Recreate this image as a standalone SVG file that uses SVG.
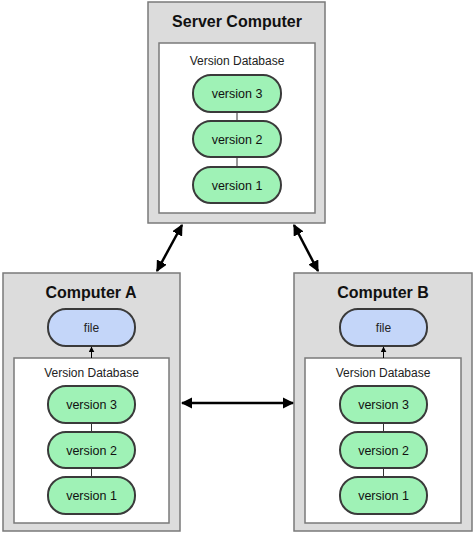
<svg xmlns="http://www.w3.org/2000/svg" width="474" height="533" viewBox="0 0 474 533">
<defs>
<marker id="ah" viewBox="0 0 10 10" refX="9" refY="5" markerWidth="4.5" markerHeight="4.5" orient="auto-start-reverse">
<path d="M0,0 L10,5 L0,10 z" fill="#000"/>
</marker>
<marker id="as" viewBox="0 0 10 10" refX="9" refY="5" markerWidth="6" markerHeight="6" orient="auto">
<path d="M0,0 L10,5 L0,10 z" fill="#000"/>
</marker>
</defs>
<style>
.comp{fill:#dcdcdc;stroke:#7a7a7a;stroke-width:1.5}
.db{fill:#fff;stroke:#7a7a7a;stroke-width:1.5}
.ver{fill:#9ff2b6;stroke:#3a3a3a;stroke-width:2}
.file{fill:#c4d6f9;stroke:#3a3a3a;stroke-width:2}
.title{font-family:"Liberation Sans",Arial,sans-serif;font-weight:bold;font-size:16px;fill:#111;text-anchor:middle}
.lbl{font-family:"Liberation Sans",Arial,sans-serif;font-size:12px;fill:#222;text-anchor:middle}
.vl{font-family:"Liberation Sans",Arial,sans-serif;font-size:12.5px;fill:#111;text-anchor:middle}
.thin{stroke:#333;stroke-width:1;fill:none}
.big{stroke:#000;stroke-width:2.5;fill:none}
</style>
<rect width="474" height="533" fill="#fff"/>

<g id="server">
<rect class="comp" x="148" y="2" width="177" height="221"/>
<text class="title" x="237" y="27">Server Computer</text>
<rect class="db" x="159" y="43" width="156" height="170"/>
<text class="lbl" x="237" y="65">Version Database</text>
<line class="thin" x1="237" y1="112" x2="237" y2="121"/>
<line class="thin" x1="237" y1="157" x2="237" y2="167"/>
<rect class="ver" x="193" y="75" width="88" height="37" rx="18"/>
<text class="vl" x="237" y="98">version 3</text>
<rect class="ver" x="193" y="121" width="88" height="36" rx="18"/>
<text class="vl" x="237" y="143.5">version 2</text>
<rect class="ver" x="193" y="167" width="88" height="36" rx="18"/>
<text class="vl" x="237" y="189.5">version 1</text>
</g>

<g id="computerA">
<rect class="comp" x="3" y="273" width="177" height="258"/>
<text class="title" x="91" y="298">Computer A</text>
<rect class="file" x="48" y="309" width="87" height="37" rx="18"/>
<text class="lbl" x="91.5" y="332">file</text>
<rect class="db" x="14" y="358" width="155" height="165"/>
<text class="lbl" x="91.5" y="377">Version Database</text>
<line class="thin" x1="91.5" y1="423" x2="91.5" y2="432"/>
<line class="thin" x1="91.5" y1="468" x2="91.5" y2="477"/>
<rect class="ver" x="48" y="386" width="87" height="37" rx="18"/>
<text class="vl" x="91.5" y="409">version 3</text>
<rect class="ver" x="48" y="432" width="87" height="36" rx="18"/>
<text class="vl" x="91.5" y="454.5">version 2</text>
<rect class="ver" x="48" y="477" width="87" height="37" rx="18"/>
<text class="vl" x="91.5" y="500">version 1</text>
</g>

<g id="computerB">
<rect class="comp" x="294" y="273" width="178" height="258"/>
<text class="title" x="383" y="298">Computer B</text>
<rect class="file" x="340" y="309" width="87" height="37" rx="18"/>
<text class="lbl" x="383.5" y="332">file</text>
<rect class="db" x="305" y="358" width="156" height="165"/>
<text class="lbl" x="383" y="377">Version Database</text>
<line class="thin" x1="383.5" y1="423" x2="383.5" y2="432"/>
<line class="thin" x1="383.5" y1="468" x2="383.5" y2="477"/>
<rect class="ver" x="340" y="386" width="87" height="37" rx="18"/>
<text class="vl" x="383.5" y="409">version 3</text>
<rect class="ver" x="340" y="432" width="87" height="36" rx="18"/>
<text class="vl" x="383.5" y="454.5">version 2</text>
<rect class="ver" x="340" y="477" width="87" height="37" rx="18"/>
<text class="vl" x="383.5" y="500">version 1</text>
</g>

<g id="connectors">
<line class="big" x1="182" y1="225" x2="157" y2="271" marker-start="url(#ah)" marker-end="url(#ah)"/>
<line class="big" x1="294" y1="225" x2="318" y2="271" marker-start="url(#ah)" marker-end="url(#ah)"/>
<line class="big" x1="182" y1="403" x2="293" y2="403" marker-start="url(#ah)" marker-end="url(#ah)"/>
<line x1="91.5" y1="358" x2="91.5" y2="347" stroke="#000" stroke-width="1" marker-end="url(#as)"/>
<line x1="383.5" y1="358" x2="383.5" y2="347" stroke="#000" stroke-width="1" marker-end="url(#as)"/>
</g>
</svg>
